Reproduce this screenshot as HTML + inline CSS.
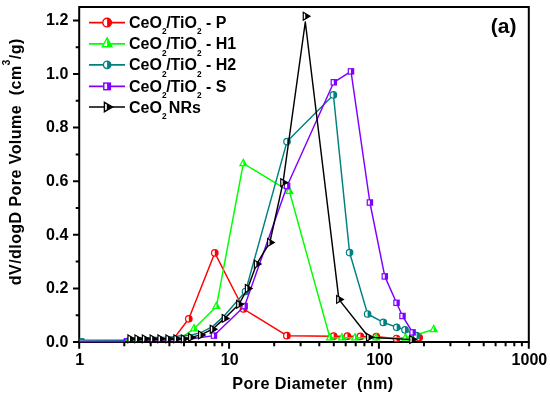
<!DOCTYPE html><html><head><meta charset="utf-8"><style>html,body{margin:0;padding:0;background:#fff;overflow:hidden}svg{display:block}text{font-family:"Liberation Sans",Arial,sans-serif;font-weight:bold;fill:#000}</style></head><body>
<svg width="550" height="395" viewBox="0 0 550 395">
<rect width="550" height="395" fill="#fff"/>
<rect x="79.2" y="7.0" width="449.6" height="335.0" fill="none" stroke="#000" stroke-width="2"/>
<polyline points="124.5,340.6 131.5,340.6 140.0,340.4 148.0,340.3 156.0,340.1 163.0,339.8 169.4,339.2 176.0,335.6 188.8,318.8 214.8,252.9 243.5,309.0 286.9,335.7 333.7,336.2 347.4,336.2 360.4,336.4 376.3,336.6 396.5,338.5 419.2,337.5" fill="none" stroke="#FF0000" stroke-width="1.45" stroke-linejoin="round"/>
<circle cx="188.8" cy="318.8" r="3.25" fill="#fff" stroke="#FF0000" stroke-width="1.2"/><path d="M188.8 315.55A3.25 3.25 0 0 1 188.8 322.05Z" fill="#FF0000"/>
<circle cx="214.8" cy="252.9" r="3.25" fill="#fff" stroke="#FF0000" stroke-width="1.2"/><path d="M214.8 249.65A3.25 3.25 0 0 1 214.8 256.15Z" fill="#FF0000"/>
<circle cx="243.5" cy="309.0" r="3.25" fill="#fff" stroke="#FF0000" stroke-width="1.2"/><path d="M243.5 305.75A3.25 3.25 0 0 1 243.5 312.25Z" fill="#FF0000"/>
<circle cx="286.9" cy="335.7" r="3.25" fill="#fff" stroke="#FF0000" stroke-width="1.2"/><path d="M286.9 332.45A3.25 3.25 0 0 1 286.9 338.95Z" fill="#FF0000"/>
<circle cx="333.7" cy="336.2" r="3.25" fill="#fff" stroke="#FF0000" stroke-width="1.2"/><path d="M333.7 332.95A3.25 3.25 0 0 1 333.7 339.45Z" fill="#FF0000"/>
<circle cx="347.4" cy="336.2" r="3.25" fill="#fff" stroke="#FF0000" stroke-width="1.2"/><path d="M347.4 332.95A3.25 3.25 0 0 1 347.4 339.45Z" fill="#FF0000"/>
<circle cx="360.4" cy="336.4" r="3.25" fill="#fff" stroke="#FF0000" stroke-width="1.2"/><path d="M360.4 333.15A3.25 3.25 0 0 1 360.4 339.65Z" fill="#FF0000"/>
<circle cx="376.3" cy="336.6" r="3.25" fill="#fff" stroke="#FF0000" stroke-width="1.2"/><path d="M376.3 333.35A3.25 3.25 0 0 1 376.3 339.85Z" fill="#FF0000"/>
<circle cx="396.5" cy="338.5" r="3.25" fill="#fff" stroke="#FF0000" stroke-width="1.2"/><path d="M396.5 335.25A3.25 3.25 0 0 1 396.5 341.75Z" fill="#FF0000"/>
<circle cx="419.2" cy="337.5" r="3.25" fill="#fff" stroke="#FF0000" stroke-width="1.2"/><path d="M419.2 334.25A3.25 3.25 0 0 1 419.2 340.75Z" fill="#FF0000"/>
<polyline points="125.0,340.4 134.0,340.3 142.0,340.2 150.0,340.1 158.0,339.9 166.0,339.6 174.0,339.4 181.0,337.8 194.0,328.8 216.4,306.4 243.3,163.5 289.4,191.3 329.9,337.8 341.9,337.8 355.0,337.8 376.3,337.8 405.5,338.0 433.7,329.5" fill="none" stroke="#00FF00" stroke-width="1.45" stroke-linejoin="round"/>
<path d="M194.0 324.64L197.40 330.88L190.60 330.88Z" fill="#fff" stroke="#00FF00" stroke-width="1.2"/><path d="M194.0 324.64L197.40 330.88L194.0 330.88Z" fill="#00FF00"/>
<path d="M216.4 302.24L219.80 308.48L213.00 308.48Z" fill="#fff" stroke="#00FF00" stroke-width="1.2"/><path d="M216.4 302.24L219.80 308.48L216.4 308.48Z" fill="#00FF00"/>
<path d="M243.3 159.34L246.70 165.58L239.90 165.58Z" fill="#fff" stroke="#00FF00" stroke-width="1.2"/><path d="M243.3 159.34L246.70 165.58L243.3 165.58Z" fill="#00FF00"/>
<path d="M289.4 187.14L292.80 193.38L286.00 193.38Z" fill="#fff" stroke="#00FF00" stroke-width="1.2"/><path d="M289.4 187.14L292.80 193.38L289.4 193.38Z" fill="#00FF00"/>
<path d="M329.9 333.64L333.30 339.88L326.50 339.88Z" fill="#fff" stroke="#00FF00" stroke-width="1.2"/><path d="M329.9 333.64L333.30 339.88L329.9 339.88Z" fill="#00FF00"/>
<path d="M341.9 333.64L345.30 339.88L338.50 339.88Z" fill="#fff" stroke="#00FF00" stroke-width="1.2"/><path d="M341.9 333.64L345.30 339.88L341.9 339.88Z" fill="#00FF00"/>
<path d="M355.0 333.64L358.40 339.88L351.60 339.88Z" fill="#fff" stroke="#00FF00" stroke-width="1.2"/><path d="M355.0 333.64L358.40 339.88L355.0 339.88Z" fill="#00FF00"/>
<path d="M376.3 333.64L379.70 339.88L372.90 339.88Z" fill="#fff" stroke="#00FF00" stroke-width="1.2"/><path d="M376.3 333.64L379.70 339.88L376.3 339.88Z" fill="#00FF00"/>
<path d="M405.5 333.84L408.90 340.08L402.10 340.08Z" fill="#fff" stroke="#00FF00" stroke-width="1.2"/><path d="M405.5 333.84L408.90 340.08L405.5 340.08Z" fill="#00FF00"/>
<path d="M433.7 325.34L437.10 331.58L430.30 331.58Z" fill="#fff" stroke="#00FF00" stroke-width="1.2"/><path d="M433.7 325.34L437.10 331.58L433.7 331.58Z" fill="#00FF00"/>
<polyline points="80.0,339.2 85.0,340.1 124.2,340.3 127.0,338.3 134.0,338.0 141.0,337.8 149.0,337.6 157.0,337.4 165.0,337.1 173.0,336.6 181.0,335.8 190.5,335.3 200.8,332.6 212.5,326.6 224.5,315.6 245.5,291.5 287.0,141.6 333.4,94.9 349.6,252.6 367.6,314.0 383.3,322.4 396.7,327.3 405.0,329.8 416.6,335.6" fill="none" stroke="#008080" stroke-width="1.45" stroke-linejoin="round"/>
<circle cx="245.5" cy="291.5" r="3.25" fill="#fff" stroke="#008080" stroke-width="1.2"/><path d="M245.5 288.25A3.25 3.25 0 0 1 245.5 294.75Z" fill="#008080"/>
<circle cx="287.0" cy="141.6" r="3.25" fill="#fff" stroke="#008080" stroke-width="1.2"/><path d="M287.0 138.35A3.25 3.25 0 0 1 287.0 144.85Z" fill="#008080"/>
<circle cx="333.4" cy="94.9" r="3.25" fill="#fff" stroke="#008080" stroke-width="1.2"/><path d="M333.4 91.65A3.25 3.25 0 0 1 333.4 98.15Z" fill="#008080"/>
<circle cx="349.6" cy="252.6" r="3.25" fill="#fff" stroke="#008080" stroke-width="1.2"/><path d="M349.6 249.35A3.25 3.25 0 0 1 349.6 255.85Z" fill="#008080"/>
<circle cx="367.6" cy="314.0" r="3.25" fill="#fff" stroke="#008080" stroke-width="1.2"/><path d="M367.6 310.75A3.25 3.25 0 0 1 367.6 317.25Z" fill="#008080"/>
<circle cx="383.3" cy="322.4" r="3.25" fill="#fff" stroke="#008080" stroke-width="1.2"/><path d="M383.3 319.15A3.25 3.25 0 0 1 383.3 325.65Z" fill="#008080"/>
<circle cx="396.7" cy="327.3" r="3.25" fill="#fff" stroke="#008080" stroke-width="1.2"/><path d="M396.7 324.05A3.25 3.25 0 0 1 396.7 330.55Z" fill="#008080"/>
<circle cx="405.0" cy="329.8" r="3.25" fill="#fff" stroke="#008080" stroke-width="1.2"/><path d="M405.0 326.55A3.25 3.25 0 0 1 405.0 333.05Z" fill="#008080"/>
<circle cx="416.6" cy="335.6" r="3.25" fill="#fff" stroke="#008080" stroke-width="1.2"/><path d="M416.6 332.35A3.25 3.25 0 0 1 416.6 338.85Z" fill="#008080"/>
<ellipse cx="82" cy="339.2" rx="2.9" ry="1.3" fill="#008080"/>
<polyline points="79.0,341.4 124.3,341.4 124.3,338.6 133.0,339.6 141.0,339.8 149.0,340.0 157.0,340.0 165.0,340.0 173.0,339.9 181.0,339.6 190.0,339.0 199.0,337.8 214.0,335.6 244.6,306.1 287.1,186.0 333.8,82.3 351.0,71.4 369.9,202.5 384.8,276.4 396.5,302.8 402.5,316.0 412.6,332.4" fill="none" stroke="#8000FF" stroke-width="1.45" stroke-linejoin="round"/>
<rect x="211.35" y="332.95" width="5.30" height="5.30" fill="#fff" stroke="#8000FF" stroke-width="1.2"/><rect x="214.00" y="332.95" width="2.65" height="5.30" fill="#8000FF"/>
<rect x="241.95" y="303.45" width="5.30" height="5.30" fill="#fff" stroke="#8000FF" stroke-width="1.2"/><rect x="244.60" y="303.45" width="2.65" height="5.30" fill="#8000FF"/>
<rect x="284.45" y="183.35" width="5.30" height="5.30" fill="#fff" stroke="#8000FF" stroke-width="1.2"/><rect x="287.10" y="183.35" width="2.65" height="5.30" fill="#8000FF"/>
<rect x="331.15" y="79.65" width="5.30" height="5.30" fill="#fff" stroke="#8000FF" stroke-width="1.2"/><rect x="333.80" y="79.65" width="2.65" height="5.30" fill="#8000FF"/>
<rect x="348.35" y="68.75" width="5.30" height="5.30" fill="#fff" stroke="#8000FF" stroke-width="1.2"/><rect x="351.00" y="68.75" width="2.65" height="5.30" fill="#8000FF"/>
<rect x="367.25" y="199.85" width="5.30" height="5.30" fill="#fff" stroke="#8000FF" stroke-width="1.2"/><rect x="369.90" y="199.85" width="2.65" height="5.30" fill="#8000FF"/>
<rect x="382.15" y="273.75" width="5.30" height="5.30" fill="#fff" stroke="#8000FF" stroke-width="1.2"/><rect x="384.80" y="273.75" width="2.65" height="5.30" fill="#8000FF"/>
<rect x="393.85" y="300.15" width="5.30" height="5.30" fill="#fff" stroke="#8000FF" stroke-width="1.2"/><rect x="396.50" y="300.15" width="2.65" height="5.30" fill="#8000FF"/>
<rect x="399.85" y="313.35" width="5.30" height="5.30" fill="#fff" stroke="#8000FF" stroke-width="1.2"/><rect x="402.50" y="313.35" width="2.65" height="5.30" fill="#8000FF"/>
<rect x="409.95" y="329.75" width="5.30" height="5.30" fill="#fff" stroke="#8000FF" stroke-width="1.2"/><rect x="412.60" y="329.75" width="2.65" height="5.30" fill="#8000FF"/>
<polyline points="130.2,338.8 137.2,338.8 144.6,338.8 152.4,338.8 160.2,338.8 168.2,338.8 176.2,338.8 183.6,338.8 190.8,337.4 200.8,334.9 212.5,329.2 224.5,318.4 238.9,304.3 247.6,288.5 256.6,264.1 269.8,242.5 283.0,182.6 305.3,22.0 338.9,299.4 368.8,337.3 412.0,339.6" fill="none" stroke="#000000" stroke-width="1.45" stroke-linejoin="round"/>
<path d="M127.96 334.90L134.68 338.80L127.96 342.70Z" fill="#fff" stroke="#000000" stroke-width="1.2"/><path d="M129.98 336.07L134.68 338.80L129.98 341.53Z" fill="#000000"/>
<path d="M134.96 334.90L141.68 338.80L134.96 342.70Z" fill="#fff" stroke="#000000" stroke-width="1.2"/><path d="M136.98 336.07L141.68 338.80L136.98 341.53Z" fill="#000000"/>
<path d="M142.36 334.90L149.08 338.80L142.36 342.70Z" fill="#fff" stroke="#000000" stroke-width="1.2"/><path d="M144.38 336.07L149.08 338.80L144.38 341.53Z" fill="#000000"/>
<path d="M150.16 334.90L156.88 338.80L150.16 342.70Z" fill="#fff" stroke="#000000" stroke-width="1.2"/><path d="M152.18 336.07L156.88 338.80L152.18 341.53Z" fill="#000000"/>
<path d="M157.96 334.90L164.68 338.80L157.96 342.70Z" fill="#fff" stroke="#000000" stroke-width="1.2"/><path d="M159.98 336.07L164.68 338.80L159.98 341.53Z" fill="#000000"/>
<path d="M165.96 334.90L172.68 338.80L165.96 342.70Z" fill="#fff" stroke="#000000" stroke-width="1.2"/><path d="M167.98 336.07L172.68 338.80L167.98 341.53Z" fill="#000000"/>
<path d="M173.96 334.90L180.68 338.80L173.96 342.70Z" fill="#fff" stroke="#000000" stroke-width="1.2"/><path d="M175.98 336.07L180.68 338.80L175.98 341.53Z" fill="#000000"/>
<path d="M181.36 334.90L188.08 338.80L181.36 342.70Z" fill="#fff" stroke="#000000" stroke-width="1.2"/><path d="M183.38 336.07L188.08 338.80L183.38 341.53Z" fill="#000000"/>
<path d="M188.56 333.50L195.28 337.40L188.56 341.30Z" fill="#fff" stroke="#000000" stroke-width="1.2"/><path d="M190.58 334.67L195.28 337.40L190.58 340.13Z" fill="#000000"/>
<path d="M198.56 331.00L205.28 334.90L198.56 338.80Z" fill="#fff" stroke="#000000" stroke-width="1.2"/><path d="M200.58 332.17L205.28 334.90L200.58 337.63Z" fill="#000000"/>
<path d="M210.26 325.30L216.98 329.20L210.26 333.10Z" fill="#fff" stroke="#000000" stroke-width="1.2"/><path d="M212.28 326.47L216.98 329.20L212.28 331.93Z" fill="#000000"/>
<path d="M222.26 314.50L228.98 318.40L222.26 322.30Z" fill="#fff" stroke="#000000" stroke-width="1.2"/><path d="M224.28 315.67L228.98 318.40L224.28 321.13Z" fill="#000000"/>
<path d="M236.66 300.40L243.38 304.30L236.66 308.20Z" fill="#fff" stroke="#000000" stroke-width="1.2"/><path d="M238.68 301.57L243.38 304.30L238.68 307.03Z" fill="#000000"/>
<path d="M245.36 284.60L252.08 288.50L245.36 292.40Z" fill="#fff" stroke="#000000" stroke-width="1.2"/><path d="M247.38 285.77L252.08 288.50L247.38 291.23Z" fill="#000000"/>
<path d="M254.36 260.20L261.08 264.10L254.36 268.00Z" fill="#fff" stroke="#000000" stroke-width="1.2"/><path d="M256.38 261.37L261.08 264.10L256.38 266.83Z" fill="#000000"/>
<path d="M267.56 238.60L274.28 242.50L267.56 246.40Z" fill="#fff" stroke="#000000" stroke-width="1.2"/><path d="M269.58 239.77L274.28 242.50L269.58 245.23Z" fill="#000000"/>
<path d="M280.76 178.70L287.48 182.60L280.76 186.50Z" fill="#fff" stroke="#000000" stroke-width="1.2"/><path d="M282.78 179.87L287.48 182.60L282.78 185.33Z" fill="#000000"/>
<path d="M303.26 12.30L309.98 16.20L303.26 20.10Z" fill="#fff" stroke="#000000" stroke-width="1.2"/><path d="M305.28 13.47L309.98 16.20L305.28 18.93Z" fill="#000000"/>
<path d="M336.66 295.50L343.38 299.40L336.66 303.30Z" fill="#fff" stroke="#000000" stroke-width="1.2"/><path d="M338.68 296.67L343.38 299.40L338.68 302.13Z" fill="#000000"/>
<path d="M366.56 333.40L373.28 337.30L366.56 341.20Z" fill="#fff" stroke="#000000" stroke-width="1.2"/><path d="M368.58 334.57L373.28 337.30L368.58 340.03Z" fill="#000000"/>
<path d="M409.76 335.70L416.48 339.60L409.76 343.50Z" fill="#fff" stroke="#000000" stroke-width="1.2"/><path d="M411.78 336.87L416.48 339.60L411.78 342.33Z" fill="#000000"/>
<path d="M73.0 342.0H79.2 M75.7 315.2H79.2 M73.0 288.4H79.2 M75.7 261.6H79.2 M73.0 234.8H79.2 M75.7 208.0H79.2 M73.0 181.2H79.2 M75.7 154.4H79.2 M73.0 127.6H79.2 M75.7 100.8H79.2 M73.0 74.0H79.2 M75.7 47.2H79.2 M73.0 20.4H79.2 M79.2 342.0V348.8 M124.3 342.0V346.2 M150.7 342.0V346.2 M169.4 342.0V346.2 M184.0 342.0V346.2 M195.8 342.0V346.2 M205.9 342.0V346.2 M214.5 342.0V346.2 M222.2 342.0V346.2 M229.1 342.0V348.8 M274.2 342.0V346.2 M300.6 342.0V346.2 M319.3 342.0V346.2 M333.8 342.0V346.2 M345.7 342.0V346.2 M355.7 342.0V346.2 M364.4 342.0V346.2 M372.1 342.0V346.2 M378.9 342.0V348.8 M424.0 342.0V346.2 M450.4 342.0V346.2 M469.2 342.0V346.2 M483.7 342.0V346.2 M495.6 342.0V346.2 M505.6 342.0V346.2 M514.3 342.0V346.2 M521.9 342.0V346.2 M528.8 342.0V348.8" stroke="#000" stroke-width="2" fill="none"/>
<text x="68.3" y="346.8" font-size="16" text-anchor="end">0.0</text>
<text x="68.3" y="293.2" font-size="16" text-anchor="end">0.2</text>
<text x="68.3" y="239.6" font-size="16" text-anchor="end">0.4</text>
<text x="68.3" y="186.0" font-size="16" text-anchor="end">0.6</text>
<text x="68.3" y="132.4" font-size="16" text-anchor="end">0.8</text>
<text x="68.3" y="78.8" font-size="16" text-anchor="end">1.0</text>
<text x="68.3" y="25.2" font-size="16" text-anchor="end">1.2</text>
<text x="79.8" y="365.3" font-size="16" text-anchor="middle">1</text>
<text x="229.7" y="365.3" font-size="16" text-anchor="middle">10</text>
<text x="379.5" y="365.3" font-size="16" text-anchor="middle">100</text>
<text x="529.4" y="365.3" font-size="16" text-anchor="middle">1000</text>
<text xml:space="preserve" x="232.2" y="388.8" font-size="16.2" textLength="161">Pore Diameter  (nm)</text>
<text xml:space="preserve" transform="translate(20.5,285.2) rotate(-90)" font-size="16" textLength="246.5">dV/dlogD Pore Volume  (cm<tspan font-size="10.5" dy="-10.3">3</tspan><tspan dy="10.3">/g)</tspan></text>
<text x="490.8" y="33" font-size="21">(a)</text>
<path d="M89 22.6H125" stroke="#FF0000" stroke-width="1.7"/>
<circle cx="107.1" cy="22.6" r="4.30" fill="#fff" stroke="#FF0000" stroke-width="1.4"/><path d="M107.1 18.30A4.30 4.30 0 0 1 107.1 26.90Z" fill="#FF0000"/>
<text xml:space="preserve" x="129" y="28.1" font-size="16">CeO<tspan font-size="8.3" dy="6.3">2</tspan><tspan dy="-6.3" dx="-0.4">/TiO</tspan><tspan font-size="8.3" dy="6.3">2</tspan><tspan dy="-6.3"> - P</tspan></text>
<path d="M89 43.8H125" stroke="#00FF00" stroke-width="1.7"/>
<path d="M107.1 37.91L111.90 46.74L102.30 46.74Z" fill="#fff" stroke="#00FF00" stroke-width="1.4"/><path d="M107.1 37.91L111.90 46.74L107.1 46.74Z" fill="#00FF00"/>
<text xml:space="preserve" x="129" y="49.3" font-size="16">CeO<tspan font-size="8.3" dy="6.3">2</tspan><tspan dy="-6.3" dx="-0.4">/TiO</tspan><tspan font-size="8.3" dy="6.3">2</tspan><tspan dy="-6.3"> - H1</tspan></text>
<path d="M89 64.8H125" stroke="#008080" stroke-width="1.7"/>
<circle cx="107.1" cy="64.8" r="3.70" fill="#fff" stroke="#008080" stroke-width="1.4"/><path d="M107.1 61.10A3.70 3.70 0 0 1 107.1 68.50Z" fill="#008080"/>
<text xml:space="preserve" x="129" y="70.3" font-size="16">CeO<tspan font-size="8.3" dy="6.3">2</tspan><tspan dy="-6.3" dx="-0.4">/TiO</tspan><tspan font-size="8.3" dy="6.3">2</tspan><tspan dy="-6.3"> - H2</tspan></text>
<path d="M89 86.4H125" stroke="#8000FF" stroke-width="1.7"/>
<rect x="103.80" y="83.10" width="6.60" height="6.60" fill="#fff" stroke="#8000FF" stroke-width="1.4"/><rect x="107.10" y="83.10" width="3.30" height="6.60" fill="#8000FF"/>
<text xml:space="preserve" x="129" y="91.9" font-size="16">CeO<tspan font-size="8.3" dy="6.3">2</tspan><tspan dy="-6.3" dx="-0.4">/TiO</tspan><tspan font-size="8.3" dy="6.3">2</tspan><tspan dy="-6.3"> - S</tspan></text>
<path d="M89 107.0H125" stroke="#000000" stroke-width="1.7"/>
<path d="M104.40 102.30L112.50 107.00L104.40 111.70Z" fill="#fff" stroke="#000000" stroke-width="1.4"/><path d="M106.83 103.71L112.50 107.00L106.83 110.29Z" fill="#000000"/>
<text xml:space="preserve" x="129" y="112.5" font-size="16">CeO<tspan font-size="8.3" dy="6.3">2 </tspan><tspan dy="-6.3">NRs</tspan></text>
</svg></body></html>
